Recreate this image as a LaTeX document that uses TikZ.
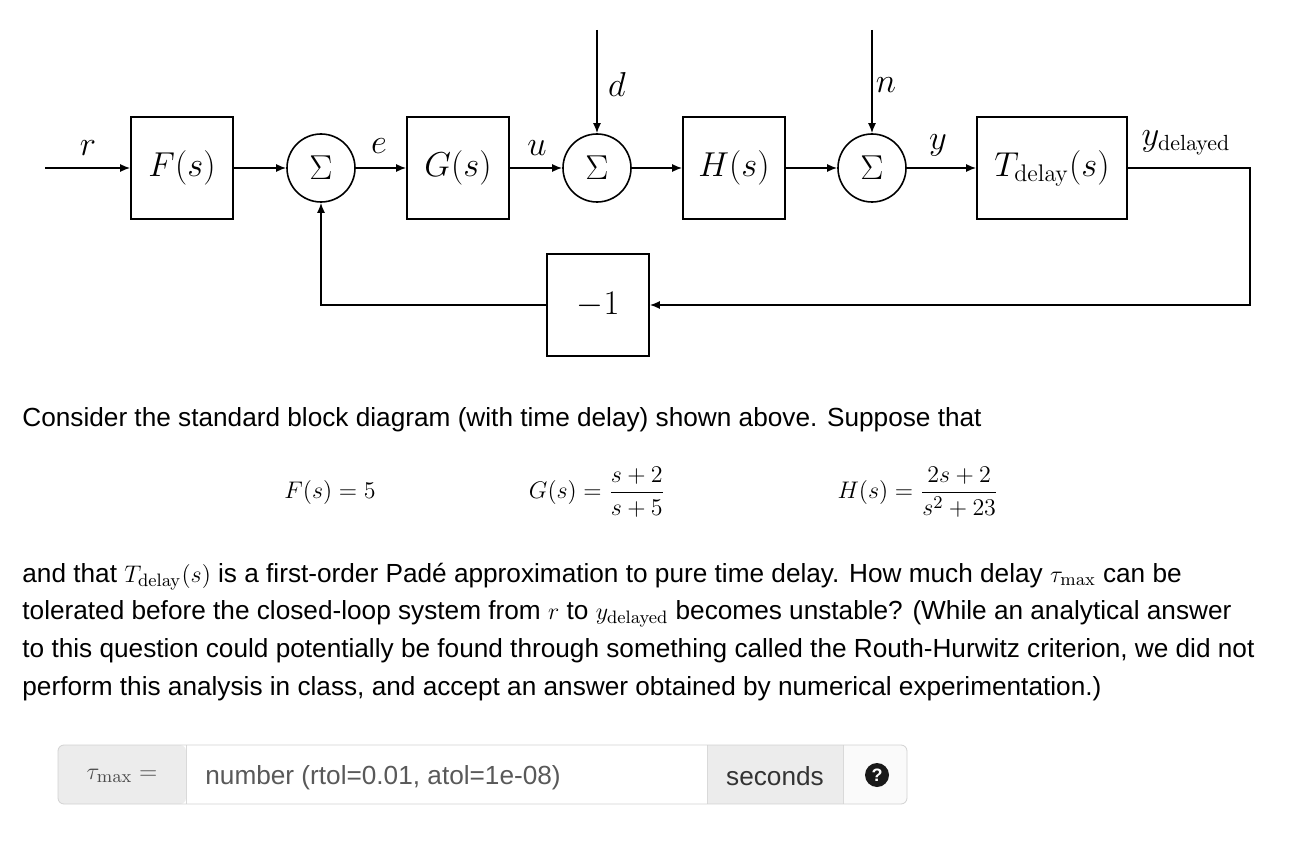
\documentclass[tikz,border=0pt]{standalone}
\usepackage{amsmath}
\usepackage[no-math]{fontspec}
\setmainfont{Liberation Sans}
\usetikzlibrary{arrows.meta}
\begin{document}
\begin{tikzpicture}[x=0.5pt,y=-0.5pt,
  blk/.style={draw,thick,minimum width=51pt,minimum height=51pt,inner sep=0pt,font=\fontsize{17}{19}\selectfont},
  sm/.style={draw,thick,circle,minimum size=34pt,inner sep=0pt,font=\fontsize{19}{21}\selectfont},
  ar/.style={thick,-{Latex[length=5pt,width=4pt]}},
  lbl/.style={font=\fontsize{16}{18}\selectfont},
  txt/.style={anchor=base west,inner sep=0pt,font=\fontsize{13.1}{15}\selectfont},
  eq/.style={inner sep=0pt,font=\fontsize{12.8}{15}\selectfont}]
\useasboundingbox[fill=white] (0,0) rectangle (1308,856);
% diagram
\coordinate (in) at (45,168);
\node[blk] (F) at (182,168) {$F(s)$};
\node[sm] (S1) at (321,168) {$\Sigma$};
\node[blk] (G) at (458,168) {$G(s)$};
\node[sm] (S2) at (597,168) {$\Sigma$};
\node[blk] (H) at (734,168) {$H(s)$};
\node[sm] (S3) at (872,168) {$\Sigma$};
\node[blk,minimum width=75pt] (T) at (1052,168) {$T_{\mathrm{delay}}(s)$};
\node[blk] (M) at (598,305) {$-1$};
\coordinate (d0) at (597,30);
\coordinate (n0) at (872,30);
\coordinate (c1) at (1250,168);
\coordinate (c2) at (1250,305);
\coordinate (c3) at (321,305);
\draw[ar] (in) -- (F);
\draw[ar] (F) -- (S1);
\draw[ar] (S1) -- (G);
\draw[ar] (G) -- (S2);
\draw[ar] (S2) -- (H);
\draw[ar] (H) -- (S3);
\draw[ar] (S3) -- (T);
\draw[ar] (d0) -- (S2);
\draw[ar] (n0) -- (S3);
\draw[ar] (T.east) -- (c1) -- (c2) -- (M);
\draw[ar] (M) -- (c3) -- (S1);
\node[lbl] (lr) at (88,148) {$r$};
\node[lbl] (le) at (379,146) {$e$};
\node[lbl] (lu) at (537,148) {$u$};
\node[lbl] (ld) at (617,85) {$d$};
\node[lbl] (ln) at (886,85) {$n$};
\node[lbl] (ly) at (938,145) {$y$};
\node[lbl] (lyd) at (1186,143) {$y_{\mathrm{delayed}}$};
% text
\node[txt] (t0) at (22,426) {Consider the standard block diagram (with time delay) shown above. Suppose that};
\node[eq] (e1) at (330,492) {$F(s)=5$};
\node[eq] (e2) at (597,492) {$G(s)=\dfrac{s+2}{s+5}$};
\node[eq] (e3) at (918,492) {$H(s)=\dfrac{2s+2}{s^2+23}$};
\node[txt] (t1) at (22,582) {and that $T_{\mathrm{delay}}(s)$ is a first-order Padé approximation to pure time delay. How much delay $\tau_{\max}$ can be};
\node[txt] (t2) at (22,619) {tolerated before the closed-loop system from $r$ to $y_{\mathrm{delayed}}$ becomes unstable? (While an analytical answer};
\node[txt] (t3) at (22,657) {to this question could potentially be found through something called the Routh-Hurwitz criterion, we did not};
\node[txt] (t4) at (22,695) {perform this analysis in class, and accept an answer obtained by numerical experimentation.)};
% input group
\fill[gray!15,rounded corners=3pt] (58,745) rectangle (186,804);
\fill[gray!15] (707,745) rectangle (843,804);
\fill[gray!4,rounded corners=3pt] (843,745) rectangle (907,804);
\fill[gray!4] (843,745) rectangle (860,804);
\draw[gray!30] (186,745) -- (186,804) (707,745) -- (707,804) (843,745) -- (843,804);
\draw[gray!35,rounded corners=3pt] (58,745) rectangle (907,804);
\node[eq,text=black!70] (tm) at (122,776) {$\tau_{\max}=$};
\node[txt,text=black!65] (ph) at (205,784) {number (rtol=0.01, atol=1e-08)};
\node[eq,text=black!80,font=\fontsize{13.1}{15}\selectfont] (sec) at (775,776) {seconds};
\node[circle,fill=black!90,minimum size=12pt,inner sep=0pt,text=white,font=\bfseries\fontsize{9}{10}\selectfont] (q) at (877,775) {?};
\end{tikzpicture}
\end{document}
